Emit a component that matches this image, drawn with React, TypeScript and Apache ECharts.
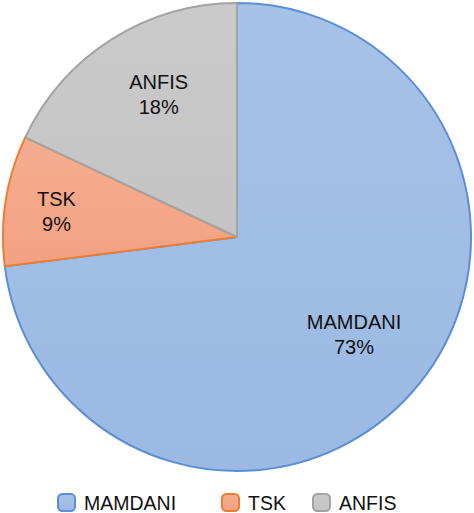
import React, { useEffect, useRef } from "react";
import * as echarts from "echarts";

const categories = ["MAMDANI", "TSK", "ANFIS"];
const shares = [73, 9, 18];

const fills = ["#a7c2e8", "#f5ad8f", "#cacaca"];
const fillsDark = ["#9bb9e3", "#f3a283", "#c4c4c4"];
const borders = ["#5b8fd3", "#ed7d31", "#a3a3a3"];
const labelOffsets = [
  [27, 18],
  [-62, -7],
  [-14, -41],
];
const legendLefts = [57, 221, 312];

export default function App() {
  const ref = useRef<HTMLDivElement>(null);
  useEffect(() => {
    if (!ref.current) return;
    const chart = echarts.init(ref.current, undefined, { renderer: "svg" });
    const font = "'Liberation Sans', Arial, Helvetica, sans-serif";
    chart.setOption({
      animation: false,
      backgroundColor: "#ffffff",
      legend: categories.map((c, i) => ({
        data: [c],
        left: legendLefts[i],
        top: 492,
        padding: 0,
        orient: "horizontal",
        icon: "roundRect",
        itemWidth: 17,
        itemHeight: 17,
        selectedMode: false,
        textStyle: {
          fontFamily: font,
          fontSize: 19.5,
          lineHeight: 21,
          color: "#111111",
          padding: [0, 0, 0, 4],
        },
      })),
      series: [
        {
          type: "pie",
          center: [237, 237],
          radius: [0, 234],
          startAngle: 90,
          clockwise: true,
          avoidLabelOverlap: false,
          label: {
            show: true,
            position: "inside",
            formatter: "{b}\n{c}%",
            fontFamily: font,
            fontSize: 20,
            lineHeight: 25,
            color: "#111111",
          },
          labelLine: { show: false },
          emphasis: { disabled: true },
          data: categories.map((name, i) => ({
            name,
            value: shares[i],
            label: { offset: labelOffsets[i] },
            itemStyle: {
              color: new echarts.graphic.LinearGradient(0, 0, 0, 1, [
                { offset: 0, color: fills[i] },
                { offset: 1, color: fillsDark[i] },
              ]),
              borderColor: borders[i],
              borderWidth: 2,
            },
          })),
        },
      ],
    });
    return () => chart.dispose();
  }, []);
  return (
    <div
      ref={ref}
      style={{ position: "absolute", left: 0, top: 0, width: 474, height: 513 }}
    />
  );
}
